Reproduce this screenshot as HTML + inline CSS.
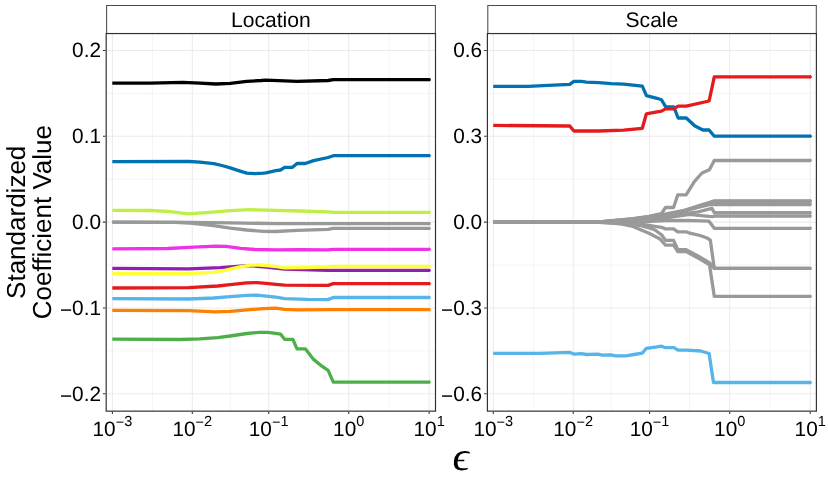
<!DOCTYPE html>
<html lang="en"><head><meta charset="utf-8"><title>Standardized Coefficient Value vs epsilon</title>
<style>html,body{margin:0;padding:0;background:#fff}svg{display:block}text{text-rendering:geometricPrecision;font-family:"Liberation Sans",Arial,Helvetica,sans-serif;fill:#000}.t{font-size:20.80px}.s{font-size:14.56px}.ti{font-size:26.00px}.st{font-size:21.10px}.c path{fill:none;stroke-width:3.30;stroke-linejoin:round;stroke-linecap:butt}.gM{stroke:#ebebeb;stroke-width:1.05;fill:none}.gm{stroke:#ebebeb;stroke-width:.55;fill:none}.tk{stroke:#333;stroke-width:1.05;fill:none}</style></head><body>
<svg width="828" height="483" viewBox="0 0 828 483">
<rect width="828" height="483" fill="#fff"/>
<g>
<path class="gm" d="M152.40,33.5V411.1M230.30,33.5V411.1M308.50,33.5V411.1M389.20,33.5V411.1M106.2,93.30H435.5M106.2,179.10H435.5M106.2,265.00H435.5M106.2,350.90H435.5"/>
<path class="gM" d="M112.40,33.5V411.1M192.30,33.5V411.1M268.70,33.5V411.1M348.70,33.5V411.1M429.15,33.5V411.1M106.2,50.40H435.5M106.2,136.20H435.5M106.2,222.10H435.5M106.2,307.90H435.5M106.2,393.80H435.5"/>
<g class="c">
<path stroke="#999999" d="M112.3,222.1 L190.0,222.3 L230.0,222.9 L275.8,223.6 L333.3,223.7 L429.9,223.7"/>
<path stroke="#999999" d="M112.3,222.1 L175.0,222.3 L190.0,223.0 L213.7,225.7 L230.2,228.2 L246.8,230.0 L263.3,231.3 L275.8,231.5 L297.0,230.3 L328.0,229.4 L333.3,228.4 L429.9,228.4"/>
<path stroke="#000000" d="M112.3,83.2 L150.0,83.2 L182.6,82.4 L200.0,83.2 L215.7,84.0 L230.2,83.4 L246.8,81.3 L261.3,80.5 L266.0,80.1 L297.0,81.3 L328.1,80.5 L333.3,79.7 L429.9,79.7"/>
<path stroke="#0072B2" d="M112.3,161.7 L188.8,161.5 L200.0,162.2 L213.7,163.7 L222.0,165.5 L230.2,167.9 L238.5,170.6 L246.8,173.1 L255.1,173.7 L263.3,173.1 L266.0,172.8 L275.8,170.6 L280.5,170.0 L284.6,167.3 L292.5,167.3 L297.0,163.5 L305.3,163.5 L313.6,160.6 L328.1,157.5 L333.3,155.7 L429.9,155.7"/>
<path stroke="#BFEF45" d="M112.3,210.3 L150.0,210.5 L168.1,211.4 L187.8,213.9 L209.5,212.4 L230.2,210.7 L251.0,209.7 L266.0,210.2 L300.0,211.0 L328.0,211.8 L333.3,212.3 L429.9,212.3"/>
<path stroke="#F032E6" d="M112.3,248.9 L168.0,248.5 L188.8,247.4 L215.7,246.2 L226.0,246.4 L240.6,248.3 L255.0,249.5 L275.8,249.9 L300.0,249.6 L328.0,249.9 L333.3,249.3 L429.9,249.3"/>
<path stroke="#911EB4" d="M112.3,268.4 L188.8,268.8 L220.0,267.7 L240.6,266.1 L251.0,265.7 L266.0,267.1 L284.6,269.2 L328.0,270.4 L429.9,270.4"/>
<path stroke="#FFFF33" d="M112.3,273.5 L188.8,273.5 L213.7,272.3 L226.0,270.2 L238.5,267.1 L251.0,265.2 L259.2,265.0 L266.0,265.5 L276.4,266.7 L284.6,267.9 L307.4,267.5 L328.0,266.9 L333.3,266.5 L429.9,266.5"/>
<path stroke="#E41A1C" d="M112.3,288.0 L188.8,287.6 L217.8,286.0 L230.2,284.7 L246.8,282.8 L257.0,282.6 L266.0,283.3 L275.8,284.3 L284.6,285.1 L328.0,285.3 L333.3,283.7 L429.9,283.7"/>
<path stroke="#56B4E9" d="M112.3,298.6 L188.8,299.0 L213.7,298.0 L230.2,296.7 L246.8,295.3 L257.0,295.2 L266.0,296.1 L275.8,297.1 L284.6,298.6 L307.4,299.4 L328.0,299.6 L333.3,297.5 L429.9,297.5"/>
<path stroke="#FF7F00" d="M112.3,310.3 L188.8,310.7 L215.7,311.9 L230.2,311.3 L246.8,309.9 L263.3,308.6 L275.8,308.2 L284.6,309.3 L297.0,309.9 L333.3,309.7 L429.9,309.7"/>
<path stroke="#4DAF4A" d="M112.3,339.1 L180.0,339.5 L200.0,338.9 L217.8,337.6 L230.2,336.0 L246.8,333.5 L259.2,332.4 L267.5,332.4 L275.8,333.4 L280.5,334.1 L284.6,339.3 L292.9,339.3 L297.0,348.8 L305.3,348.8 L313.6,359.4 L321.9,366.2 L328.1,370.3 L333.3,382.1 L429.9,382.1"/>
</g>
<circle cx="429.4" cy="223.7" r="1.45" fill="#999999"/>
<circle cx="429.4" cy="228.4" r="1.45" fill="#999999"/>
<circle cx="429.4" cy="79.7" r="1.45" fill="#000000"/>
<circle cx="429.4" cy="155.7" r="1.45" fill="#0072B2"/>
<circle cx="429.4" cy="212.3" r="1.45" fill="#BFEF45"/>
<circle cx="429.4" cy="249.3" r="1.45" fill="#F032E6"/>
<circle cx="429.4" cy="270.4" r="1.45" fill="#911EB4"/>
<circle cx="429.4" cy="266.5" r="1.45" fill="#FFFF33"/>
<circle cx="429.4" cy="283.7" r="1.45" fill="#E41A1C"/>
<circle cx="429.4" cy="297.5" r="1.45" fill="#56B4E9"/>
<circle cx="429.4" cy="309.7" r="1.45" fill="#FF7F00"/>
<circle cx="429.4" cy="382.1" r="1.45" fill="#4DAF4A"/>
<path d="M106.60,33.5V5.50H435.40V33.5" fill="none" stroke="#333" stroke-opacity=".88" stroke-width="1.05"/>
<rect x="106.20" y="33.55" width="329.30" height="377.60" fill="none" stroke="#333" stroke-width="1.2"/>
<path class="tk" d="M112.40,411.8V413.9M192.30,411.8V413.9M268.70,411.8V413.9M348.70,411.8V413.9M429.15,411.8V413.9M102.9,50.40H105.5M102.9,136.20H105.5M102.9,222.10H105.5M102.9,307.90H105.5M102.9,393.80H105.5"/>
<text class="st" x="270.9" y="26.5" text-anchor="middle">Location</text>
<text class="t" x="101.0" y="57.4" text-anchor="end">0.2</text>
<text class="t" x="101.0" y="143.2" text-anchor="end">0.1</text>
<text class="t" x="101.0" y="229.1" text-anchor="end">0.0</text>
<text class="t" x="101.0" y="314.9" text-anchor="end"><tspan dy="2.4">−</tspan><tspan dy="-2.4">0.1</tspan></text>
<text class="t" x="101.0" y="400.8" text-anchor="end"><tspan dy="2.4">−</tspan><tspan dy="-2.4">0.2</tspan></text>
<text class="t" x="92.5" y="436.1">10<tspan class="s" dy="-9.3">−</tspan><tspan class="s" dy="-0.9">3</tspan></text>
<text class="t" x="172.4" y="436.1">10<tspan class="s" dy="-9.3">−</tspan><tspan class="s" dy="-0.9">2</tspan></text>
<text class="t" x="248.8" y="436.1">10<tspan class="s" dy="-9.3">−</tspan><tspan class="s" dy="-0.9">1</tspan></text>
<text class="t" x="333.1" y="436.1">10<tspan class="s" dy="-10.2">0</tspan></text>
<text class="t" x="413.5" y="436.1">10<tspan class="s" dy="-10.2">1</tspan></text>
</g>
<g>
<path class="gm" d="M533.40,33.5V411.1M611.20,33.5V411.1M689.50,33.5V411.1M770.20,33.5V411.1M487.4,93.30H816.4M487.4,179.10H816.4M487.4,265.00H816.4M487.4,350.90H816.4"/>
<path class="gM" d="M493.30,33.5V411.1M573.20,33.5V411.1M649.60,33.5V411.1M729.70,33.5V411.1M810.20,33.5V411.1M487.4,50.40H816.4M487.4,136.20H816.4M487.4,222.10H816.4M487.4,307.90H816.4M487.4,393.80H816.4"/>
<g class="c">
<path stroke="#999999" d="M493.2,222.1 L600.0,222.0 L611.4,220.7 L633.0,218.6 L649.0,216.4 L661.4,213.6 L665.5,207.5 L673.6,207.5 L677.8,194.8 L686.1,194.8 L694.5,181.3 L702.0,173.0 L709.4,169.7 L714.3,160.5 L811.0,160.5"/>
<path stroke="#999999" d="M493.2,222.1 L600.0,222.0 L611.4,220.8 L633.0,218.8 L649.0,216.6 L661.3,214.8 L677.8,211.5 L684.0,210.4 L690.0,208.6 L700.0,205.4 L709.0,202.5 L714.3,200.9 L811.0,200.9"/>
<path stroke="#999999" d="M493.2,222.1 L600.0,222.0 L611.4,221.0 L633.0,219.2 L649.0,217.1 L661.3,215.3 L677.8,212.0 L684.0,210.8 L690.0,209.0 L700.0,206.0 L709.0,203.0 L714.3,201.4 L811.0,201.4"/>
<path stroke="#999999" d="M493.2,222.1 L600.0,222.1 L611.4,221.2 L633.0,219.6 L649.0,217.6 L661.3,215.8 L677.8,212.6 L684.0,211.3 L690.0,209.5 L700.0,206.8 L709.5,204.6 L714.3,204.5 L811.0,204.5"/>
<path stroke="#999999" d="M493.2,222.1 L600.0,222.1 L620.0,221.5 L640.0,220.3 L661.3,217.5 L677.8,214.8 L690.0,213.0 L698.4,211.8 L705.0,210.2 L711.9,208.4 L714.3,212.6 L811.0,212.6"/>
<path stroke="#999999" d="M493.2,222.1 L600.0,222.1 L620.0,221.7 L640.0,220.8 L661.3,218.5 L677.8,216.0 L690.0,214.3 L698.4,215.3 L709.0,216.4 L712.9,216.6 L714.3,216.0 L811.0,216.0"/>
<path stroke="#999999" d="M493.2,222.1 L600.0,222.1 L640.0,221.8 L665.5,220.7 L686.0,220.3 L709.0,221.2 L714.3,228.3 L811.0,228.3"/>
<path stroke="#999999" d="M493.2,222.1 L600.0,222.2 L620.0,222.8 L640.0,224.0 L655.0,226.3 L661.4,227.3 L665.5,228.9 L673.6,228.9 L677.8,231.8 L686.1,231.8 L690.0,233.2 L700.0,235.5 L707.0,238.0 L710.3,240.1 L714.3,268.4 L811.0,268.4"/>
<path stroke="#999999" d="M493.2,222.1 L600.0,222.3 L620.0,223.1 L633.0,224.4 L640.0,225.5 L649.0,227.8 L655.0,230.0 L661.7,235.0 L665.5,240.4 L673.6,240.4 L677.8,249.6 L686.1,249.6 L697.0,255.4 L709.3,262.6 L714.3,268.4 L811.0,268.4"/>
<path stroke="#999999" d="M493.2,222.1 L600.0,222.4 L611.4,223.0 L622.0,224.2 L633.0,226.5 L640.0,229.5 L649.0,233.2 L660.0,239.0 L665.5,245.2 L673.6,245.2 L677.8,251.6 L686.1,251.6 L700.0,259.0 L709.5,264.8 L714.3,296.4 L811.0,296.4"/>
<path stroke="#0072B2" d="M493.2,86.3 L528.4,86.3 L543.0,85.7 L569.8,84.4 L573.9,81.3 L581.2,81.3 L586.4,82.2 L598.8,82.6 L611.2,83.6 L623.6,84.2 L642.3,86.1 L646.4,95.6 L657.0,98.3 L661.5,99.8 L665.6,106.6 L673.9,107.0 L678.1,118.0 L686.3,118.0 L694.6,125.8 L702.9,130.0 L709.1,130.0 L714.3,136.2 L811.0,136.2"/>
<path stroke="#E41A1C" d="M493.2,125.4 L569.8,126.0 L573.9,131.0 L598.8,131.0 L623.6,130.2 L642.3,128.3 L646.4,113.8 L657.0,111.8 L661.5,111.1 L665.6,108.9 L673.9,108.9 L678.1,106.2 L686.3,106.2 L709.1,101.0 L714.3,76.9 L811.0,76.9"/>
<path stroke="#56B4E9" d="M493.2,353.3 L540.0,353.3 L569.8,352.4 L573.9,354.1 L581.2,353.7 L586.4,354.5 L598.0,354.1 L602.0,355.1 L611.0,354.9 L615.5,355.8 L625.7,355.8 L634.0,354.5 L642.3,353.1 L646.4,348.3 L657.0,346.9 L661.5,346.2 L665.6,347.7 L673.9,347.7 L678.1,350.2 L686.3,350.2 L700.8,351.0 L709.1,353.5 L713.5,382.5 L811.0,382.5"/>
</g>
<circle cx="810.5" cy="160.5" r="1.45" fill="#999999"/>
<circle cx="810.5" cy="200.9" r="1.45" fill="#999999"/>
<circle cx="810.5" cy="201.4" r="1.45" fill="#999999"/>
<circle cx="810.5" cy="204.5" r="1.45" fill="#999999"/>
<circle cx="810.5" cy="212.6" r="1.45" fill="#999999"/>
<circle cx="810.5" cy="216.0" r="1.45" fill="#999999"/>
<circle cx="810.5" cy="228.3" r="1.45" fill="#999999"/>
<circle cx="810.5" cy="268.4" r="1.45" fill="#999999"/>
<circle cx="810.5" cy="296.4" r="1.45" fill="#999999"/>
<circle cx="810.5" cy="136.2" r="1.45" fill="#0072B2"/>
<circle cx="810.5" cy="76.9" r="1.45" fill="#E41A1C"/>
<circle cx="810.5" cy="382.5" r="1.45" fill="#56B4E9"/>
<path d="M487.80,33.5V5.50H816.30V33.5" fill="none" stroke="#333" stroke-opacity=".88" stroke-width="1.05"/>
<rect x="487.40" y="33.55" width="329.00" height="377.60" fill="none" stroke="#333" stroke-width="1.2"/>
<path class="tk" d="M493.30,411.8V413.9M573.20,411.8V413.9M649.60,411.8V413.9M729.70,411.8V413.9M810.20,411.8V413.9M484.1,50.40H486.7M484.1,136.20H486.7M484.1,222.10H486.7M484.1,307.90H486.7M484.1,393.80H486.7"/>
<text class="st" x="651.9" y="26.5" text-anchor="middle">Scale</text>
<text class="t" x="482.2" y="57.4" text-anchor="end">0.6</text>
<text class="t" x="482.2" y="143.2" text-anchor="end">0.3</text>
<text class="t" x="482.2" y="229.1" text-anchor="end">0.0</text>
<text class="t" x="482.2" y="314.9" text-anchor="end"><tspan dy="2.4">−</tspan><tspan dy="-2.4">0.3</tspan></text>
<text class="t" x="482.2" y="400.8" text-anchor="end"><tspan dy="2.4">−</tspan><tspan dy="-2.4">0.6</tspan></text>
<text class="t" x="473.4" y="436.1">10<tspan class="s" dy="-9.3">−</tspan><tspan class="s" dy="-0.9">3</tspan></text>
<text class="t" x="553.3" y="436.1">10<tspan class="s" dy="-9.3">−</tspan><tspan class="s" dy="-0.9">2</tspan></text>
<text class="t" x="629.7" y="436.1">10<tspan class="s" dy="-9.3">−</tspan><tspan class="s" dy="-0.9">1</tspan></text>
<text class="t" x="714.1" y="436.1">10<tspan class="s" dy="-10.2">0</tspan></text>
<text class="t" x="794.6" y="436.1">10<tspan class="s" dy="-10.2">1</tspan></text>
</g>
<text class="ti" transform="translate(24.6,222.3) rotate(-90)" text-anchor="middle">Standardized</text>
<text class="ti" transform="translate(51.3,222.1) rotate(-90)" text-anchor="middle">Coefficient Value</text>
<text transform="translate(451.0,469.8) skewX(-8) scale(1.06,1)" style="font-family:'Liberation Serif','DejaVu Serif',serif;font-size:40.6px">ϵ</text>
</svg></body></html>
